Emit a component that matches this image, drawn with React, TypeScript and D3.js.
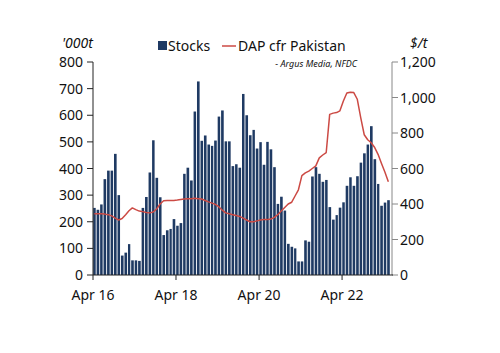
import React from "react";
import * as d3 from "d3";

const stocks: number[] = [
  252, 245, 265, 360, 392, 392, 455, 300, 73, 84, 116, 55, 55, 53,
  252, 293, 385, 506, 365, 292, 150, 168, 173, 210, 185, 195, 380, 403, 355,
  614, 727, 504, 524, 490, 485, 505, 595, 618, 502, 502, 409, 416, 403,
  680, 600, 525, 545, 475, 499, 414, 500, 472, 405, 267, 294, 242,
  117, 106, 100, 51, 51, 130, 125,
  370, 405, 380, 350, 357, 255, 208, 225, 253,
  273, 335, 367, 335, 371, 422, 457, 490, 559, 435, 342, 260, 272, 281,
];

const dap: number[] = [
  345, 345, 345, 343, 340, 333, 320, 310, 318, 340,
  362, 378, 368, 360, 357, 352, 350, 355, 372, 400,
  418, 420, 420, 420, 422, 425, 428, 430, 430, 432,
  430, 428, 420, 412, 405, 398, 385, 365, 350, 345,
  340, 335, 330, 320, 310, 300, 300, 305, 310, 312,
  312, 315, 325, 340, 360, 380, 400, 410, 445, 480,
  560, 575, 585, 600, 615, 660, 676, 690, 905, 912,
  915, 925, 980, 1025, 1030, 1028, 990, 885, 790, 762,
  745, 718, 680, 630, 580, 525,
];

const months: Date[] = d3.timeMonth.range(new Date(2016, 3, 1), new Date(2023, 5, 1));

const xTicks: Date[] = [new Date(2016, 3, 1), new Date(2018, 3, 1), new Date(2020, 3, 1), new Date(2022, 3, 1)];
const leftTicks: number[] = [0, 100, 200, 300, 400, 500, 600, 700, 800];
const rightTicks: number[] = [0, 200, 400, 600, 800, 1000, 1200];

const FONT = "'Noto Sans', sans-serif";

export default function App() {
  const W = 500, H = 353;
  const x0 = 93, x1 = 393, yTop = 62, yBot = 275;
  const x = d3.scaleTime().domain([new Date(2016, 3, 1), new Date(2023, 5, 23)]).range([x0, x1]);
  const yL = d3.scaleLinear().domain([0, 800]).range([yBot, yTop]);
  const yR = d3.scaleLinear().domain([0, 1200]).range([yBot, yTop]);
  const fmtX = d3.timeFormat("%b %y");
  const fmtR = d3.format(",");

  const line = d3.line<number>()
    .x((_, i) => {
      const a = x(months[i]);
      const b = x(d3.timeMonth.offset(months[i], 1));
      return (a + b) / 2 - 0.4;
    })
    .y((d) => yR(d))
    .curve(d3.curveLinear);

  return (
    <svg width={W} height={H} style={{ position: "absolute", left: 0, top: 0, background: "#fff" }} fontFamily={FONT}>
      <rect width={W} height={H} fill="#fff" />
      {/* bars */}
      {stocks.map((v, i) => {
        const a = x(months[i]);
        const b = x(d3.timeMonth.offset(months[i], 1));
        return (
          <rect key={i} x={a + 0.2} y={yL(v)} width={b - a - 0.9} height={yBot - yL(v)} fill="#1f3a63" />
        );
      })}
      {/* line */}
      <path d={line(dap) || ""} fill="none" stroke="#cc4a44" strokeWidth={1.5} strokeLinejoin="round" />

      {/* left axis */}
      <line x1={x0} x2={x0} y1={yTop} y2={yBot} stroke="#222" strokeWidth={1} />
      {leftTicks.map((t) => (
        <g key={t}>
          <line x1={x0 - 6} x2={x0} y1={yL(t)} y2={yL(t)} stroke="#222" strokeWidth={1} />
          <text x={x0 - 10} y={yL(t) + 5} textAnchor="end" fontSize={14} fill="#111">{t}</text>
        </g>
      ))}
      {/* right axis */}
      <line x1={x1 - 1} x2={x1 - 1} y1={yTop} y2={yBot} stroke="#888" strokeWidth={1} />
      {rightTicks.map((t) => (
        <g key={t}>
          <line x1={x1 - 1} x2={x1 + 5} y1={yR(t)} y2={yR(t)} stroke="#888" strokeWidth={1} />
          <text x={x1 + 7} y={yR(t) + 5} textAnchor="start" fontSize={14} fill="#111">{fmtR(t)}</text>
        </g>
      ))}
      {/* bottom axis */}
      <line x1={x0} x2={x1} y1={yBot} y2={yBot} stroke="#222" strokeWidth={1} />
      {xTicks.map((t, i) => (
        <g key={i}>
          <line x1={x(t)} x2={x(t)} y1={yBot} y2={yBot + 5} stroke="#222" strokeWidth={1} />
          <text x={x(t)} y={yBot + 25} textAnchor="middle" fontSize={14} fill="#111">{fmtX(t)}</text>
        </g>
      ))}

      {/* axis titles */}
      <text x={62} y={48} fontSize={14} fontStyle="italic" fill="#111">'000t</text>
      <text x={410} y={48} fontSize={14} fontStyle="italic" fill="#111">$/t</text>

      {/* legend */}
      <rect x={158} y={41} width={9} height={9} fill="#1f3a63" />
      <text x={168} y={51} fontSize={14} fill="#111">Stocks</text>
      <line x1={222} x2={236} y1={46} y2={46} stroke="#cc4a44" strokeWidth={1.5} />
      <text x={238} y={51} fontSize={14} fill="#111">DAP cfr Pakistan</text>

      {/* source */}
      <text x={357} y={67} fontSize={9} fontStyle="italic" textAnchor="end" fill="#111">- Argus Media, NFDC</text>
    </svg>
  );
}
